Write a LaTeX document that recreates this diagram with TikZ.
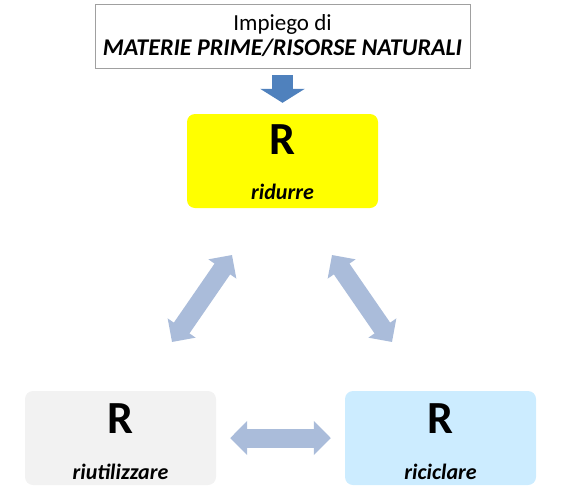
\documentclass[tikz,border=0pt]{standalone}
\usepackage{fontspec}
\setmainfont{Carlito}
\usetikzlibrary{arrows.meta}

\definecolor{arrowgrey}{RGB}{170,188,218}
\definecolor{downblue}{RGB}{79,129,189}
\definecolor{boxyellow}{RGB}{255,255,0}
\definecolor{boxgrey}{RGB}{242,242,242}
\definecolor{boxblue}{RGB}{204,236,255}
\definecolor{framegrey}{RGB}{160,160,160}

\tikzset{
  rbox/.style={rounded corners=8pt, minimum width=191pt, minimum height=94pt, inner sep=0pt},
  bigr/.style={font=\bfseries\fontsize{46}{46}\selectfont, inner sep=0pt},
  lab/.style={font=\bfseries\itshape\fontsize{22}{22}\selectfont, inner sep=0pt},
  fatarrow/.style={draw=arrowgrey, line width=19pt,
    {Triangle[width=33pt,length=17pt]}-{Triangle[width=33pt,length=17pt]}}
}

\begin{document}
\begin{tikzpicture}[x=1pt, y=-1pt]
                    \useasboundingbox (0,0) rectangle (561,498);

                    \node (impiego)  [draw=framegrey, line width=0.8pt, minimum width=375pt, minimum height=64pt,
                                      align=center, font=\fontsize{23}{25}\selectfont]
                                     at (282.5,36) {Impiego di\\{\fontsize{24}{25}\selectfont\textbf{\textit{MATERIE PRIME/RISORSE NATURALI}}}};
                    \node (ridurre)  [rbox, fill=boxyellow] at (282.5,161) {};
                    \node (riutil)   [rbox, fill=boxgrey]   at (120.5,438) {};
                    \node (ricicl)   [rbox, fill=boxblue]   at (440.5,438) {};

                    \node (rA) [bigr] at ([yshift=-26pt]ridurre.north) {R};
                    \node (rB) [bigr] at ([yshift=-28pt]riutil.north)  {R};
                    \node (rC) [bigr] at ([yshift=-28pt]ricicl.north)  {R};
                    \node (labA) [lab] at ([yshift=16pt]ridurre.south) {ridurre};
                    \node (labB) [lab] at ([yshift=13pt]riutil.south)  {riutilizzare};
                    \node (labC) [lab] at ([yshift=13pt]ricicl.south)  {riciclare};

                    \coordinate (leftlow)   at (172,342);
                    \coordinate (lefthigh)  at (232,255);
                    \coordinate (righthigh) at (332,255);
                    \coordinate (rightlow)  at (392,342);

                    \draw[draw=downblue, line width=21pt, -{Triangle[width=44pt,length=14pt]},
                          shorten <=7pt, shorten >=11pt] (impiego) -- (ridurre);
                    \draw[fatarrow] (leftlow) -- (lefthigh);
                    \draw[fatarrow] (righthigh) -- (rightlow);
                    \draw[fatarrow, shorten <=14pt, shorten >=14pt] (riutil) -- (ricicl);
                \end{tikzpicture}
\end{document}
